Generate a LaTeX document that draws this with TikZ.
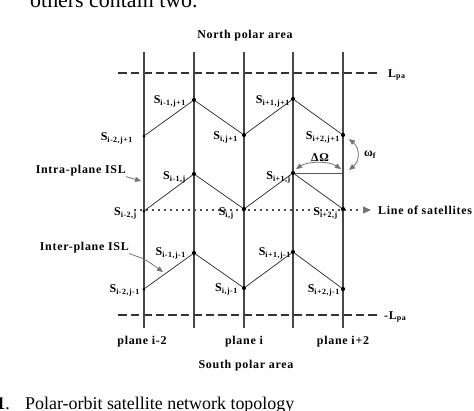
\documentclass[tikz,border=0pt]{standalone}
\usepackage{fontspec}
\setmainfont{Liberation Serif}
\newfontfamily\labfont{Liberation Serif}[LetterSpace=6]
\usetikzlibrary{arrows.meta}
\begin{document}
\begin{tikzpicture}[x=1bp,y=-1bp,
  plane/.style={line width=1.8bp, draw=black!72},
  link/.style={line width=0.7bp, draw=black!85},
  sat/.style={circle, fill=black, inner sep=0, minimum size=4.2bp},
  satsmall/.style={circle, fill=black, inner sep=0, minimum size=3bp},
  lab/.style={font=\labfont\bfseries\fontsize{12}{12}\selectfont, inner sep=0},
  slabel/.style={lab, anchor=east},
  polar/.style={dash pattern=on 8.5bp off 4bp, line width=1.2bp, draw=black!80},
  dotline/.style={dash pattern=on 1.5bp off 4.5bp, line width=1.6bp, draw=black!70},
  garrow/.style={draw=black!55, line width=0.8bp},
  tip/.style={-{Triangle[length=6bp,width=5bp]}},
  tips/.style={{Triangle[length=6bp,width=5bp]}-{Triangle[length=6bp,width=5bp]}}
]
\useasboundingbox (0,0) rectangle (474,410);
\clip (0,0) rectangle (474,410);
\fill[white] (0,0) rectangle (474,410);

% surrounding page text
\node[anchor=base west, inner sep=0, font=\fontsize{22}{22}\selectfont] (prev) at (30,7) {others contain two.};
\node[anchor=base east, inner sep=0, font=\fontsize{18}{18}\selectfont] (capno) at (10,409) {\textbf{1}.};
\node[anchor=base west, inner sep=0, font=\fontsize{18}{18}\selectfont] (cap) at (25,409) {Polar-orbit satellite network topology};

% polar boundaries
\coordinate (ntl) at (118,73); \coordinate (ntr) at (378,73);
\coordinate (stl) at (118,315); \coordinate (str) at (378,315);
\draw[polar] (ntl) -- (ntr);
\draw[polar] (stl) -- (str);

% planes
\foreach \n/\x in {A/144,B/194,C/244,D/293,E/343}{
  \coordinate (\n top) at (\x,52);
  \coordinate (\n bot) at (\x,328);
  \draw[plane] (\n top) -- (\n bot);
}

% line of satellites (dotted)
\coordinate (los0) at (134,210);
\coordinate (los1) at (358,210);
\coordinate (los2) at (363,210);
\coordinate (los3) at (371,210);
\draw[dotline] (los0) -- (los1);
\draw[draw=black!55, line width=0.8bp, -{Triangle[length=8bp,width=7bp]}] (los2) -- (los3);

% satellites
\node[satsmall] (A1) at (144,136) {};
\node[satsmall] (A2) at (144,211) {};
\node[satsmall] (A3) at (144,289) {};
\node[sat] (B1) at (194,100) {};
\node[sat] (B2) at (194,174) {};
\node[sat] (B3) at (194,253) {};
\node[sat] (C1) at (244,135) {};
\node[sat] (C2) at (244,209) {};
\node[sat] (C3) at (244,288) {};
\node[sat] (D1) at (293,99) {};
\node[sat] (D2) at (293,173) {};
\node[sat] (D3) at (293,252) {};
\node[sat] (E1) at (343,135) {};
\node[sat] (E2) at (343,209) {};
\node[sat] (E3) at (343,289) {};

% inter-plane zigzags
\draw[link] (A1) -- (B1) -- (C1) -- (D1) -- (E1);
\draw[link] (A2) -- (B2) -- (C2) -- (D2) -- (E2);
\draw[link] (A3) -- (B3) -- (C3) -- (D3) -- (E3);

% satellite labels
\node[slabel] (lA1) at (133,138) {S\textsubscript{i-2,j+1}};
\node[slabel] (lB1) at (186,101) {S\textsubscript{i-1,j+1}};
\node[slabel] (lC1) at (238,137) {S\textsubscript{i,j+1}};
\node[slabel] (lD1) at (290,101) {S\textsubscript{i+1,j+1}};
\node[slabel] (lE1) at (340,137) {S\textsubscript{i+2,j+1}};
\node[slabel] (lA2) at (137,213) {S\textsubscript{i-2,j}};
\node[slabel] (lB2) at (186,177) {S\textsubscript{i-1,j}};
\node[slabel] (lC2) at (234,213) {S\textsubscript{i,j}};
\node[slabel] (lD2) at (291,177) {S\textsubscript{i+1,j}};
\node[slabel] (lE2) at (338,213) {S\textsubscript{i+2,j}};
\node[slabel] (lA3) at (140,290) {S\textsubscript{i-2,j-1}};
\node[slabel] (lB3) at (186,253) {S\textsubscript{i-1,j-1}};
\node[slabel] (lC3) at (238,289) {S\textsubscript{i,j-1}};
\node[slabel] (lD3) at (291,253) {S\textsubscript{i+1,j-1}};
\node[slabel] (lE3) at (340,290) {S\textsubscript{i+2,j-1}};

% other labels
\node[lab] (north) at (245,36) {North polar area};
\node[lab] (south) at (246,366) {South polar area};
\node[lab] (pl1) at (142,342) {plane i-2};
\node[lab] (pl2) at (244,342) {plane i};
\node[lab] (pl3) at (343,342) {plane i+2};
\node[lab, anchor=west] (lpa) at (388,75) {L\textsubscript{pa}};
\node[lab, anchor=west] (mlpa) at (384,317) {-L\textsubscript{pa}};
\node[lab, anchor=west] (los) at (378,210) {Line of satellites};
\node[lab, anchor=east] (intra) at (126,171) {Intra-plane ISL};
\node[lab, anchor=east] (inter) at (129,248) {Inter-plane ISL};

% annotation arrows
\coordinate (intraT) at (141,181);
\draw[garrow, tip] (intra.south east) -- (intraT);
\coordinate (interT) at (163,272);
\draw[garrow, tip] (inter.south east) .. controls (145,259) .. (interT);

% Delta Omega
\coordinate (hEnd) at (343,173);
\draw[line width=0.8bp, draw=black!65] (D2) -- (hEnd);
\coordinate (do0) at (296,169);
\coordinate (do1) at (341,169);
\draw[garrow, tips] (do0) .. controls (308,161) and (329,161) .. (do1);
\node[lab] (dO) at (320,158) {ΔΩ};

% omega_f
\coordinate (w0) at (349,139);
\coordinate (w1) at (349,170);
\draw[garrow, tips] (w0) .. controls (360,148) and (360,161) .. (w1);
\node[lab] (wf) at (370,155) {ω\textsubscript{f}};
\end{tikzpicture}
\end{document}
